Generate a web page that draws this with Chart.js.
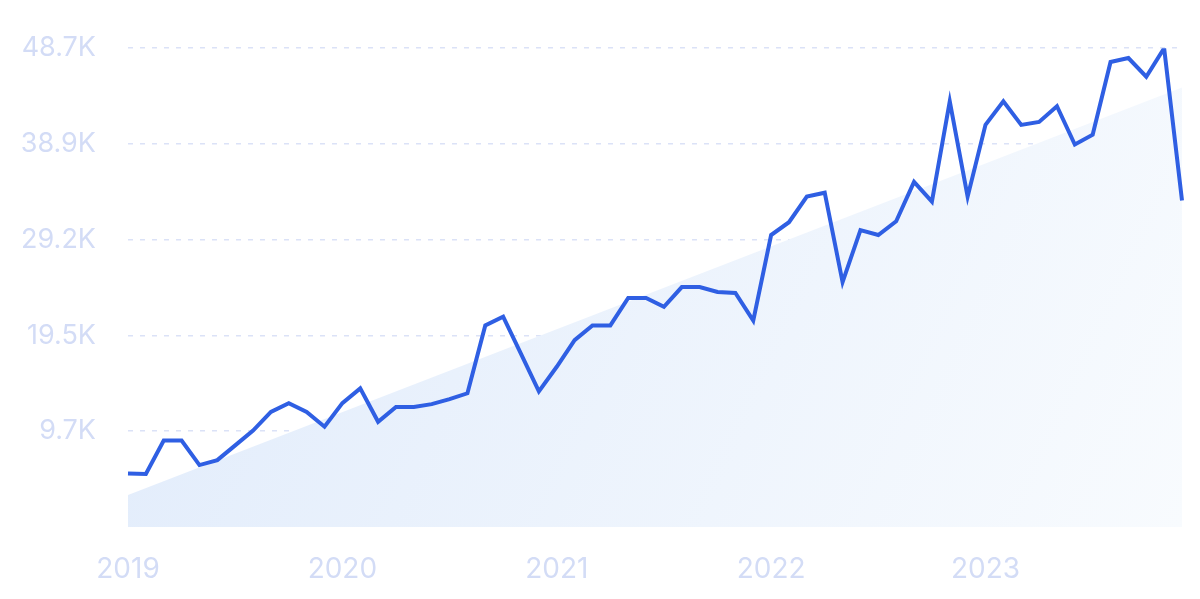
<!DOCTYPE html><html lang="en">
<head>
<meta charset="UTF-8">
<title>Trend</title>
<style>
  html, body { margin: 0; padding: 0; background: #fff; }
  #wrap { width: 1200px; height: 599px; }
</style>
</head>
<body>
<div id="wrap"><canvas id="grafico"></canvas></div>
<script src="https://cdn.jsdelivr.net/npm/chart.js"></script>
<script>
const years = ["2019", "2020", "2021", "2022", "2023"];
const valores = [5.45, 5.4, 8.8, 8.8, 6.3, 6.8, 8.3, 9.8, 11.7, 12.6, 11.7, 10.2,
                 12.6, 14.1, 10.7, 12.2, 12.2, 12.5, 13.0, 13.6, 20.5, 21.4, 17.6, 13.8,
                 16.3, 19.0, 20.5, 20.5, 23.3, 23.3, 22.4, 24.4, 24.4, 23.9, 23.8, 21.0,
                 29.7, 31.0, 33.6, 34.0, 24.9, 30.2, 29.7, 31.1, 35.1, 33.1, 43.3, 33.6,
                 40.9, 43.3, 40.9, 41.2, 42.8, 38.9, 39.9, 47.3, 47.7, 45.8, 48.7, 33.2];
const tendenciaInicio = 3.25, tendenciaFim = 44.7;
const tickValues = [9.74, 19.48, 29.22, 38.96, 48.7];
const tickLabels = ["9.7K", "19.5K", "29.2K", "38.9K", "48.7K"];

const labels = valores.map((v, i) => years[Math.floor(i / 12)] + "-" + (i % 12 + 1));
const tendencia = valores.map((v, i) => i === 0 ? tendenciaInicio : (i === valores.length - 1 ? tendenciaFim : null));

new Chart(document.getElementById("grafico"), {
  type: "line",
  data: {
    labels: labels,
    datasets: [{
      data: valores,
      borderColor: "#2f5fe3",
      borderWidth: 4,
      pointRadius: 0,
      tension: 0,
      fill: false,
      order: 0
    }, {
      data: tendencia,
      spanGaps: true,
      borderWidth: 0,
      pointRadius: 0,
      fill: "origin",
      order: 1,
      backgroundColor: (ctx) => {
        const a = ctx.chart.chartArea;
        if (!a) return "#e6effc";
        const g = ctx.chart.ctx.createLinearGradient(a.left, a.top, a.right, a.bottom);
        g.addColorStop(0, "#e0ebfb");
        g.addColorStop(1, "#f8fbfe");
        return g;
      }
    }]
  },
  options: {
    responsive: true,
    maintainAspectRatio: false,
    animation: false,
    layout: { padding: { top: -11, right: -7, left: 0, bottom: 0 } },
    plugins: { legend: { display: false }, tooltip: { enabled: false } },
    scales: {
      x: {
        grid: { display: false },
        border: { display: false },
        afterFit: (s) => { s.height = 72; },
        ticks: {
          autoSkip: false,
          maxRotation: 0,
          padding: 18,
          color: "#d3dcf6",
          font: { family: "Inter", size: 28 },
          callback: (v, i) => i % 12 === 0 ? years[i / 12] : ""
        }
      },
      y: {
        min: 0,
        max: 48.7,
        afterFit: (s) => { s.width = 128; },
        afterBuildTicks: (s) => { s.ticks = tickValues.map(v => ({ value: v })); },
        grid: { color: "#dbe2f7", lineWidth: 1.5, drawTicks: false },
        border: { display: false, dash: [5, 7] },
        ticks: {
          padding: 32,
          color: "#d3dcf6",
          font: { family: "Inter", size: 27 },
          callback: (v) => tickLabels[tickValues.indexOf(v)]
        }
      }
    }
  }
});
</script>
</body>
</html>
